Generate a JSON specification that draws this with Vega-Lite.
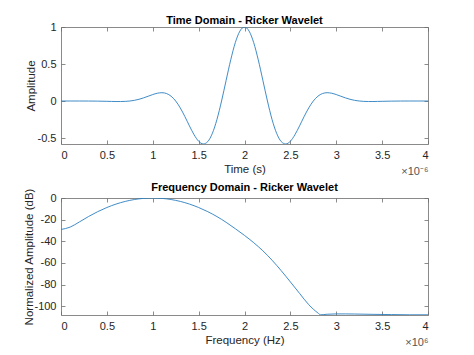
{
  "$schema": "https://vega.github.io/schema/vega-lite/v6.json",
  "padding": {"left": 22, "top": 14, "right": 5, "bottom": 5},
  "background": "white",
  "config": {
    "font": "Liberation Sans",
    "view": {"stroke": "#8a8a8a", "strokeWidth": 1},
    "axis": {"domain": false, "grid": false, "tickColor": "#6e6e6e", "tickWidth": 0.8, "tickSize": -4, "labelColor": "#262626", "labelFontSize": 11, "labelPadding": 9, "titleFontSize": 11.5, "titleColor": "#262626", "titleFontWeight": "normal", "titlePadding": 3},
    "title": {"fontSize": 11, "fontWeight": "bold", "color": "#000000", "offset": -5},
    "concat": {"spacing": 4}
  },
  "datasets": {
    "time": [
      {"t": 0, "amp": 0.00006}, {"t": 0.1, "amp": 0.00012}, {"t": 0.2, "amp": 0.0001}, {"t": 0.3, "amp": -0.00027}, {"t": 0.4, "amp": -0.00157},
      {"t": 0.5, "amp": -0.00414}, {"t": 0.55, "amp": -0.00564}, {"t": 0.6, "amp": -0.00679}, {"t": 0.65, "amp": -0.0069}, {"t": 0.7, "amp": -0.00501},
      {"t": 0.75, "amp": 0}, {"t": 0.8, "amp": 0.00922}, {"t": 0.85, "amp": 0.02335}, {"t": 0.9, "amp": 0.04229}, {"t": 0.95, "amp": 0.06463},
      {"t": 1.0, "amp": 0.08725}, {"t": 1.05, "amp": 0.10527}, {"t": 1.1, "amp": 0.1122}, {"t": 1.15, "amp": 0.1009}, {"t": 1.2, "amp": 0.06487},
      {"t": 1.25, "amp": 0}, {"t": 1.3, "amp": -0.09353}, {"t": 1.35, "amp": -0.20973}, {"t": 1.4, "amp": -0.33624}, {"t": 1.45, "amp": -0.45478},
      {"t": 1.5, "amp": -0.54346}, {"t": 1.55, "amp": -0.58034}, {"t": 1.6, "amp": -0.54763}, {"t": 1.65, "amp": -0.43599}, {"t": 1.7, "amp": -0.24811},
      {"t": 1.75, "amp": 0}, {"t": 1.8, "amp": 0.28029}, {"t": 1.85, "amp": 0.5564}, {"t": 1.9, "amp": 0.78952}, {"t": 1.95, "amp": 0.94528},
      {"t": 2.0, "amp": 1},
      {"t": 2.05, "amp": 0.94528}, {"t": 2.1, "amp": 0.78952}, {"t": 2.15, "amp": 0.5564}, {"t": 2.2, "amp": 0.28029}, {"t": 2.25, "amp": 0},
      {"t": 2.3, "amp": -0.24811}, {"t": 2.35, "amp": -0.43599}, {"t": 2.4, "amp": -0.54763}, {"t": 2.45, "amp": -0.58034}, {"t": 2.5, "amp": -0.54346},
      {"t": 2.55, "amp": -0.45478}, {"t": 2.6, "amp": -0.33624}, {"t": 2.65, "amp": -0.20973}, {"t": 2.7, "amp": -0.09353}, {"t": 2.75, "amp": 0},
      {"t": 2.8, "amp": 0.06487}, {"t": 2.85, "amp": 0.1009}, {"t": 2.9, "amp": 0.1122}, {"t": 2.95, "amp": 0.10527}, {"t": 3.0, "amp": 0.08725},
      {"t": 3.05, "amp": 0.06463}, {"t": 3.1, "amp": 0.04229}, {"t": 3.15, "amp": 0.02335}, {"t": 3.2, "amp": 0.00922}, {"t": 3.25, "amp": 0},
      {"t": 3.3, "amp": -0.00501}, {"t": 3.35, "amp": -0.0069}, {"t": 3.4, "amp": -0.00679}, {"t": 3.45, "amp": -0.00564}, {"t": 3.5, "amp": -0.00414},
      {"t": 3.6, "amp": -0.00157}, {"t": 3.7, "amp": -0.00027}, {"t": 3.8, "amp": 0.0001}, {"t": 3.9, "amp": 0.00012}, {"t": 4.0, "amp": 0.00006}
    ],
    "freq": [
      {"f": 0, "db": -29.1}, {"f": 0.1, "db": -26.9}, {"f": 0.2, "db": -22.16}, {"f": 0.3, "db": -17.15}, {"f": 0.4, "db": -12.64},
      {"f": 0.5, "db": -8.79}, {"f": 0.6, "db": -5.62}, {"f": 0.7, "db": -3.16}, {"f": 0.8, "db": -1.41}, {"f": 0.9, "db": -0.35},
      {"f": 1.0, "db": 0}, {"f": 1.1, "db": -0.35}, {"f": 1.2, "db": -1.41}, {"f": 1.3, "db": -3.16}, {"f": 1.4, "db": -5.62},
      {"f": 1.5, "db": -8.79}, {"f": 1.6, "db": -12.65}, {"f": 1.7, "db": -17.2}, {"f": 1.8, "db": -22.5}, {"f": 1.9, "db": -28.4},
      {"f": 2.0, "db": -34.6}, {"f": 2.1, "db": -41.3}, {"f": 2.2, "db": -48.8}, {"f": 2.3, "db": -57.5}, {"f": 2.4, "db": -67.2},
      {"f": 2.5, "db": -77.6}, {"f": 2.6, "db": -88.2}, {"f": 2.7, "db": -98.6}, {"f": 2.8, "db": -106.3}, {"f": 2.83, "db": -108.0},
      {"f": 2.9, "db": -107.5}, {"f": 3.0, "db": -107.2}, {"f": 3.1, "db": -107.2}, {"f": 3.2, "db": -107.3}, {"f": 3.4, "db": -107.6},
      {"f": 3.6, "db": -107.8}, {"f": 3.8, "db": -108.0}, {"f": 4.0, "db": -108.0}
    ]
  },
  "vconcat": [
    {
      "title": "Time Domain - Ricker Wavelet",
      "width": 367,
      "height": 117,
      "data": {"name": "time"},
      "layer": [
        {
          "mark": {"type": "line", "color": "#2a7fc0", "strokeWidth": 0.9, "interpolate": "monotone", "clip": true},
          "encoding": {
            "x": {"field": "t", "type": "quantitative", "scale": {"domain": [0, 4], "nice": false, "zero": false},
                  "axis": {"orient": "bottom", "title": "Time (s)", "values": [0, 0.5, 1, 1.5, 2, 2.5, 3, 3.5, 4], "labelExpr": "'' + datum.value"}},
            "y": {"field": "amp", "type": "quantitative", "scale": {"domain": [-0.5808, 1], "nice": false, "zero": false},
                  "axis": {"orient": "left", "title": "Amplitude", "titleX": -24.5, "values": [-0.5, 0, 0.5, 1], "labelExpr": "'' + datum.value"}}
          }
        },
        {
          "mark": {"type": "line", "opacity": 0},
          "encoding": {
            "x": {"field": "t", "type": "quantitative", "axis": {"orient": "top", "title": null, "labels": false, "values": [0, 0.5, 1, 1.5, 2, 2.5, 3, 3.5, 4]}},
            "y": {"field": "amp", "type": "quantitative", "axis": {"orient": "right", "title": null, "labels": false, "values": [-0.5, 0, 0.5, 1]}}
          }
        },
        {
          "mark": {"type": "line", "opacity": 0},
          "encoding": {
            "x": {"field": "t", "type": "quantitative", "axis": {"orient": "bottom", "title": "×10⁻⁶", "titleAnchor": "end", "titleFontSize": 11, "titleColor": "#555555", "titlePadding": 21, "labels": false, "ticks": false}},
            "y": {"field": "amp", "type": "quantitative", "axis": null}
          }
        }
      ],
      "resolve": {"axis": {"x": "independent", "y": "independent"}}
    },
    {
      "title": "Frequency Domain - Ricker Wavelet",
      "width": 367,
      "height": 117,
      "data": {"name": "freq"},
      "layer": [
        {
          "mark": {"type": "line", "color": "#2a7fc0", "strokeWidth": 0.9, "interpolate": "monotone", "clip": true},
          "encoding": {
            "x": {"field": "f", "type": "quantitative", "scale": {"domain": [0, 4], "nice": false, "zero": false},
                  "axis": {"orient": "bottom", "title": "Frequency (Hz)", "values": [0, 0.5, 1, 1.5, 2, 2.5, 3, 3.5, 4], "labelExpr": "'' + datum.value"}},
            "y": {"field": "db", "type": "quantitative", "scale": {"domain": [-108.2, 0], "nice": false, "zero": false},
                  "axis": {"orient": "left", "title": "Normalized Amplitude (dB)", "titleX": -26.5, "values": [-100, -80, -60, -40, -20, 0], "labelExpr": "'' + datum.value"}}
          }
        },
        {
          "mark": {"type": "line", "opacity": 0},
          "encoding": {
            "x": {"field": "f", "type": "quantitative", "axis": {"orient": "top", "title": null, "labels": false, "values": [0, 0.5, 1, 1.5, 2, 2.5, 3, 3.5, 4]}},
            "y": {"field": "db", "type": "quantitative", "axis": {"orient": "right", "title": null, "labels": false, "values": [-100, -80, -60, -40, -20, 0]}}
          }
        },
        {
          "mark": {"type": "line", "opacity": 0},
          "encoding": {
            "x": {"field": "f", "type": "quantitative", "axis": {"orient": "bottom", "title": "×10⁶", "titleAnchor": "end", "titleFontSize": 11, "titleColor": "#555555", "titlePadding": 21, "labels": false, "ticks": false}},
            "y": {"field": "db", "type": "quantitative", "axis": null}
          }
        }
      ],
      "resolve": {"axis": {"x": "independent", "y": "independent"}}
    }
  ]
}
